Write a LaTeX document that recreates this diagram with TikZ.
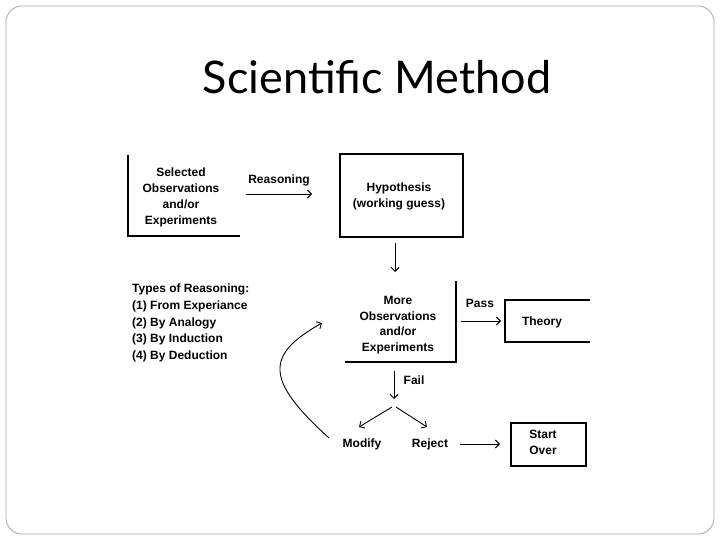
\documentclass[tikz,border=0pt]{standalone}
\usepackage{fontspec}
\setmainfont{Liberation Sans}
\newfontfamily\titlefont{Lato}
\usetikzlibrary{arrows.meta}
\begin{document}
\begin{tikzpicture}[x=1pt,y=-1pt,
  lbl/.style={font=\fontsize{12}{16}\selectfont\bfseries,align=center,inner sep=0pt},
  ln/.style={line width=1.1pt},
  arr/.style={line width=0.9pt,-{Straight Barb[length=4pt,width=8pt]}}]
\useasboundingbox (0,0) rectangle (720,540);
\draw[gray!70,line width=0.8pt,rounded corners=16pt] (6,6) rectangle (714,534);
\node[inner sep=0pt] (title) at (377,77) {\titlefont\fontsize{45}{50}\selectfont Scientific Method};
% box 1
\draw[ln] (128,155) -- (128,236) -- (240,236);
\node[lbl] (sel) at (181,197) {Selected\\Observations\\and/or\\Experiments};
\node[lbl] (reas) at (279,180) {Reasoning};
\coordinate (r1) at (246,194); \coordinate (r2) at (312,194);
\draw[arr] (r1) -- (r2);
% hypothesis
\node[draw,ln,minimum width=123pt,minimum height=83pt] (hypbox) at (401.5,195.5) {};
\node[lbl] (hyp) at (399,196) {Hypothesis\\(working guess)};
\coordinate (h1) at (395,243); \coordinate (h2) at (395,272);
\draw[arr] (h1) -- (h2);
% more obs
\draw[ln] (456,281) -- (456,362) -- (345,362);
\node[lbl,font=\fontsize{12}{15.5}\selectfont\bfseries] (more) at (398,325) {More\\Observations\\and/or\\Experiments};
\node[lbl] (pass) at (480,303) {Pass};
\coordinate (p1) at (461,321); \coordinate (p2) at (501,321);
\draw[arr] (p1) -- (p2);
% theory
\draw[ln] (590,300) -- (505,300) -- (505,342) -- (590,342);
\node[lbl] (theory) at (542,322) {Theory};
% fail
\coordinate (f1) at (394,371); \coordinate (f2) at (394,399);
\draw[arr] (f1) -- (f2);
\node[lbl] (fail) at (414,380) {Fail};
\coordinate (b0) at (392,407); \coordinate (bm) at (359,427);
\coordinate (b1) at (396,407); \coordinate (br) at (427,427);
\draw[arr] (b0) -- (bm);
\draw[arr] (b1) -- (br);
\node[lbl] (modify) at (362,444) {Modify};
\node[lbl] (reject) at (430,444) {Reject};
\coordinate (s1) at (460,444); \coordinate (s2) at (500,444);
\draw[arr] (s1) -- (s2);
\node[draw,ln,minimum width=75pt,minimum height=43pt] (startbox) at (548.5,444.5) {};
\node[lbl,align=left] (start) at (543,442) {Start\\Over};
% loop curve
\coordinate (c1) at (329,438); \coordinate (c2) at (322,323);
\draw[arr] (c1) .. controls (265,380) and (265,355) .. (c2);
% types
\node[lbl,align=left,anchor=north west,font=\fontsize{12}{16.6}\selectfont\bfseries] (types) at (132,284) {Types of Reasoning:\\(1) From Experiance\\(2) By Analogy\\(3) By Induction\\(4) By Deduction};
\end{tikzpicture}
\end{document}
